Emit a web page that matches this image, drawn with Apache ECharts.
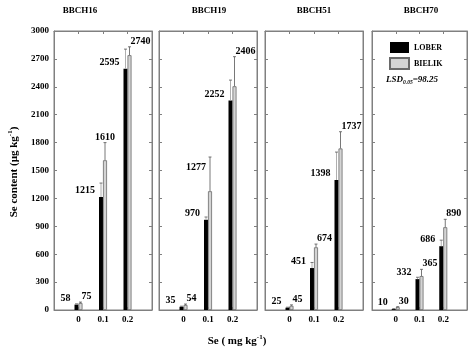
<!DOCTYPE html>
<html>
<head>
<meta charset="utf-8">
<script src="https://cdn.jsdelivr.net/npm/echarts@6/dist/echarts.min.js"></script>
<style>
  html, body { margin: 0; padding: 0; background: #fff; }
  #chart { width: 474px; height: 354px; }
</style>
</head>
<body>
<div id="chart"></div>
<script>
/* 四个生育期面板，每个面板三个施硒水平 */
var stages = ["BBCH16", "BBCH19", "BBCH51", "BBCH70"];
var doses = [0, 0.1, 0.2];
var doseLabels = ["0", "0.1", "0.2"];

/* 硒含量 (µg/kg)，按面板排列 */
var loberValues  = [[58, 1215, 2595], [35, 970, 2252], [25, 451, 1398], [10, 332, 686]];
var bielikValues = [[75, 1610, 2740], [54, 1277, 2406], [45, 674, 1737], [30, 365, 890]];
/* 误差线长度 */
var loberErr  = [[8, 150, 210], [6, 30, 220], [5, 60, 300], [4, 20, 65]];
var bielikErr = [[10, 190, 90], [10, 368, 318], [10, 35, 180], [6, 72, 85]];

var yTicks = [0, 300, 600, 900, 1200, 1500, 1800, 2100, 2400, 2700, 3000];

/* BIELIK 数值标签的对齐方式（仅样式） */
var bielikAlign = [["left", "center", "left"], ["left", "right", "left"],
                   ["left", "left", "left"], ["left", "left", "left"]];

var FONT = "Liberation Serif";
var FRAME = "#808080";
var grids = [
    { left: 54, width: 98 },
    { left: 159, width: 98 },
    { left: 265, width: 98 },
    { left: 372, width: 95 }
];
var titleX = [80, 209, 314, 421];

var chart = echarts.init(document.getElementById("chart"));

var option = {
    backgroundColor: "#ffffff",
    animation: false,
    grid: [],
    xAxis: [],
    yAxis: [],
    series: [],
    legend: {
        data: ["LOBER", "BIELIK"],
        orient: "vertical",
        left: 389,
        top: 42,
        itemWidth: 19,
        itemHeight: 11,
        itemGap: 4,
        padding: 0,
        icon: "rect",
        textStyle: { fontFamily: FONT, fontWeight: "bold", fontSize: 8, color: "#000" }
    },
    graphic: []
};

function xLabel(v) {
    var r = Math.round(v * 10) / 10;
    if (r < -0.05 || r > 0.25) { return ""; }
    return r === 0 ? "0" : String(r);
}

/* 误差线与数值标签 */
function makeErrRender(side, p) {
    return function (params, api) {
        var i = api.value(3);
        var v = api.value(1);
        var e = api.value(2);
        var base = api.coord([api.value(0), v]);
        var top = api.coord([api.value(0), v + e]);
        var cx = base[0] + (side === 0 ? -2 : 2);
        var children = [
            { type: "line", shape: { x1: cx, y1: base[1], x2: cx, y2: top[1] },
              style: { stroke: side === 0 ? "#9a9a9a" : "#555", lineWidth: 0.8 } },
            { type: "line", shape: { x1: cx - 1.5, y1: top[1], x2: cx + 1.5, y2: top[1] },
              style: { stroke: "#555", lineWidth: 0.8 } }
        ];
        var txt = { fill: "#000", fontFamily: FONT, fontWeight: "bold", fontSize: 10, text: String(v) };
        if (side === 0) {
            txt.x = cx - 6; txt.y = base[1] - 1.5;
            txt.textAlign = "right"; txt.textVerticalAlign = "bottom";
        } else {
            var al = bielikAlign[p][i];
            if (al === "left") {
                txt.x = cx + 1; txt.y = top[1] - 0.5;
                txt.textAlign = "left"; txt.textVerticalAlign = "bottom";
            } else if (al === "center") {
                txt.x = cx; txt.y = top[1] - 0.5;
                txt.textAlign = "center"; txt.textVerticalAlign = "bottom";
            } else {
                txt.x = cx - 4; txt.y = top[1] + 10;
                txt.textAlign = "right"; txt.textVerticalAlign = "middle";
            }
        }
        children.push({ type: "text", style: txt });
        return { type: "group", children: children };
    };
}

for (var p = 0; p < stages.length; p++) {
    option.grid.push({ left: grids[p].left, width: grids[p].width, top: 31, height: 279,
        show: true, borderColor: FRAME, borderWidth: 1, backgroundColor: "transparent" });

    var tick = { show: true, inside: true, length: 3, lineStyle: { color: FRAME } };
    var line = { show: true, onZero: false, lineStyle: { color: FRAME } };
    option.xAxis.push({
        gridIndex: p, type: "value", min: -0.1, max: 0.3, interval: 0.1,
        axisLine: line, axisTick: tick, splitLine: { show: false },
        axisLabel: { formatter: xLabel, fontFamily: FONT, fontWeight: "bold", fontSize: 9, color: "#000", margin: 5 }
    });
    option.xAxis.push({
        gridIndex: p, type: "value", position: "top", min: -0.1, max: 0.3, interval: 0.1,
        axisLine: line, axisTick: tick, splitLine: { show: false }, axisLabel: { show: false }
    });
    option.yAxis.push({
        gridIndex: p, type: "value", min: yTicks[0], max: yTicks[yTicks.length - 1], interval: yTicks[1] - yTicks[0],
        axisLine: line, axisTick: tick, splitLine: { show: false },
        axisLabel: { show: p === 0, formatter: function (v) { return String(v); },
                     fontFamily: FONT, fontWeight: "bold", fontSize: 9, color: "#000", margin: 5 }
    });
    option.yAxis.push({
        gridIndex: p, type: "value", position: "right", min: yTicks[0], max: yTicks[yTicks.length - 1],
        interval: yTicks[1] - yTicks[0],
        axisLine: line, axisTick: tick, splitLine: { show: false }, axisLabel: { show: false }
    });

    var lob = [], bie = [], lobE = [], bieE = [];
    for (var i = 0; i < doses.length; i++) {
        lob.push([doses[i], loberValues[p][i]]);
        bie.push([doses[i], bielikValues[p][i]]);
        lobE.push([doses[i], loberValues[p][i], loberErr[p][i], i]);
        bieE.push([doses[i], bielikValues[p][i], bielikErr[p][i], i]);
    }

    option.series.push({
        name: "LOBER", type: "bar", xAxisIndex: p * 2, yAxisIndex: p * 2,
        barWidth: 4, barGap: "0%", data: lob,
        itemStyle: { color: "#000000" }
    });
    option.series.push({
        name: "BIELIK", type: "bar", xAxisIndex: p * 2, yAxisIndex: p * 2,
        barWidth: 4, barGap: "0%", data: bie,
        itemStyle: { color: "#d4d4d4", borderColor: "#6a6a6a", borderWidth: 0.8 }
    });
    option.series.push({
        type: "custom", xAxisIndex: p * 2, yAxisIndex: p * 2, z: 5,
        renderItem: makeErrRender(0, p), data: lobE, silent: true
    });
    option.series.push({
        type: "custom", xAxisIndex: p * 2, yAxisIndex: p * 2, z: 5,
        renderItem: makeErrRender(1, p), data: bieE, silent: true
    });

    option.graphic.push({
        type: "text", x: titleX[p], y: 11,
        style: { text: stages[p], fill: "#000", fontFamily: FONT, fontWeight: "bold", fontSize: 9,
                 textAlign: "center", textVerticalAlign: "middle" }
    });
}

/* 轴标题与 LSD 标注 */
option.graphic.push({
    type: "text", x: 14, y: 172, rotation: Math.PI / 2,
    style: {
        text: "{a|Se content (µg kg}{s|-1}{a|)}",
        rich: {
            a: { fontFamily: FONT, fontWeight: "bold", fontSize: 11, fill: "#000" },
            s: { fontFamily: FONT, fontWeight: "bold", fontSize: 7, fill: "#000", padding: [0, 0, 7, 0] }
        },
        textAlign: "center", textVerticalAlign: "middle"
    }
});
option.graphic.push({
    type: "text", x: 237, y: 341,
    style: {
        text: "{a|Se ( mg kg}{s|-1}{a|)}",
        rich: {
            a: { fontFamily: FONT, fontWeight: "bold", fontSize: 11, fill: "#000" },
            s: { fontFamily: FONT, fontWeight: "bold", fontSize: 7, fill: "#000", padding: [0, 0, 7, 0] }
        },
        textAlign: "center", textVerticalAlign: "middle"
    }
});
option.graphic.push({
    type: "text", x: 386, y: 80,
    style: {
        text: "{a|LSD}{s|0.05}{a|=98.25}",
        rich: {
            a: { fontFamily: FONT, fontWeight: "bold", fontStyle: "italic", fontSize: 9, fill: "#000" },
            s: { fontFamily: FONT, fontWeight: "bold", fontStyle: "italic", fontSize: 5.5, fill: "#000", padding: [5, 0, 0, 0] }
        },
        textAlign: "left", textVerticalAlign: "middle"
    }
});

chart.setOption(option);
</script>
</body>
</html>
